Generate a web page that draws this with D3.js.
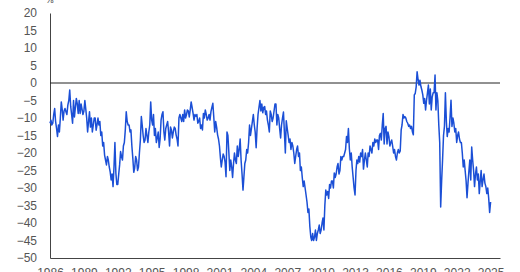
<!DOCTYPE html>
<html>
<head>
<meta charset="utf-8">
<script src="https://cdn.jsdelivr.net/npm/d3@7"></script>
<style>
  body { margin: 0; background: #fff; }
  svg { display: block; font-family: Inter, "Liberation Sans", sans-serif; }
</style>
</head>
<body>
<div id="chart"></div>
<script>
// data: monthly values, Jan 1986 .. Jan 2025 (one row per year)
const startYear = 1986;
const values = [
  -11.5, -10.6, -12, -11.5, -9, -7.3, -11, -13, -15.3, -12, -14, -10,   // 1986
  -5.4, -7.7, -10.6, -8, -7.3, -8.2, -9, -6.3, -5, -2, -6.7, -9,        // 1987
  -11.5, -5, -9.7, -7, -4.4, -6, -8.7, -5, -8.7, -6, -7.5, -9,          // 1988
  -8, -5, -7.3, -10, -14, -11, -8.2, -12.6, -10, -14, -12, -10,         // 1989
  -10, -13.5, -12, -10, -12, -11, -15, -14, -18, -17, -20.6, -22,       // 1990
  -23.4, -21, -22, -24, -25.4, -27.7, -26, -29.6, -24, -17, -25.8, -29, // 1991
  -29, -26, -23.4, -19.6, -21, -22, -18, -17, -13.4, -8.2, -11, -12,    // 1992
  -12, -14, -13.4, -18, -21.4, -25.5, -24.3, -21, -22, -25, -24, -20,   // 1993
  -16.3, -9.6, -12, -15, -17, -16.3, -13, -15, -17, -14, -12, -5.4,     // 1994
  -10.6, -12, -9, -15, -13, -17, -15.7, -14, -18.4, -16, -10.6, -9,     // 1995
  -8.2, -14, -16.3, -13, -12, -11, -14, -18, -12.6, -13.4, -15.7, -14,  // 1996
  -12.6, -13, -14.8, -16, -18, -10, -9, -10, -11, -9, -11, -7.7,        // 1997
  -10, -9, -7.7, -8, -9.7, -7.7, -5.4, -7, -8.7, -10.6, -9, -9.5,       // 1998
  -9, -11.5, -11, -10, -13, -12, -13.4, -8.7, -10, -7.7, -9, -10.6,     // 1999
  -10, -9, -10.6, -8.2, -7, -5.8, -9.7, -14, -11, -12.6, -14.8, -16,    // 2000
  -18, -21.4, -24, -22, -20.3, -21, -22.6, -26.8, -14, -15, -19.9, -25, // 2001
  -22, -24, -27, -23, -20, -22, -23, -18, -21, -19, -16, -22,           // 2002
  -26, -30.6, -27, -23, -22, -19, -20, -17, -12, -15, -13, -11,         // 2003
  -9, -12, -14, -18.5, -13, -9, -7, -5, -8, -6, -8.5, -7,               // 2004
  -6.7, -9, -8, -10.6, -12, -14, -8, -9, -11, -10, -8, -6,              // 2005
  -6, -12, -9, -10, -13, -15.7, -12, -10, -8.3, -14, -20, -10.8,        // 2006
  -13, -15, -17, -16, -19, -17, -18, -20, -23, -21, -19, -18,           // 2007
  -21, -20, -25, -24, -27, -29.6, -28, -30, -32, -34, -37, -36,         // 2008
  -41, -44, -45, -43, -45, -44, -42, -45, -43, -42, -40.6, -43,         // 2009
  -42, -40, -38.6, -42, -35, -30.6, -32, -31, -33, -29, -30, -28,       // 2010
  -28, -30, -25.7, -27, -26, -24, -23, -26, -25, -21, -22, -21,         // 2011
  -21, -20, -19, -15.3, -17, -13, -18.7, -22, -20, -24, -27, -30,       // 2012
  -32, -25, -22, -23, -21, -22.6, -20, -21, -19, -24.6, -22, -20,       // 2013
  -22, -24, -20, -21, -18, -19, -20, -17, -18, -16, -17, -16.3,         // 2014
  -16.3, -19, -15, -14.4, -16.3, -12, -8.7, -17.4, -13, -12.4, -17.4, -14, // 2015
  -15.3, -18, -17, -16.3, -18, -20, -19, -21, -22, -20, -19, -20,       // 2016
  -19.4, -13.4, -12, -9, -10, -9.6, -10, -11, -11.5, -12.4, -12, -13,   // 2017
  -12.4, -14, -14.8, -3.4, -3, -1.1, 3.2, 1, -0.6, 0.8, -1, -2,         // 2018
  -3.4, -5.8, -4.4, -7.7, -5, -2.8, -0.6, -6, -1.7, -7.7, -4, -2.8,     // 2019
  -2.8, 2.3, -7.7, -2.8, -5, -12, -17, -35.4, -28, -22, -15, -12.4,     // 2020
  -2.8, -11, -15.3, -13, -14, -9.7, -4.9, -12.4, -10, -11.5, -14, -13,  // 2021
  -17, -15, -14, -16, -17, -17, -20, -24, -22, -25, -28, -32.8,         // 2022
  -28.6, -25, -22, -27.7, -18.3, -22, -25, -29.6, -26, -24, -27.7, -26, // 2023
  -31.6, -28, -25, -29.6, -27.7, -26, -28.6, -29.6, -31.6, -30, -33, -37, // 2024
  -34                                                                    // 2025
];
const yTicks = [20, 15, 10, 5, 0, -5, -10, -15, -20, -25, -30, -35, -40, -45, -50];
const xTickYears = [1986, 1989, 1992, 1995, 1998, 2001, 2004, 2007, 2010, 2013, 2016, 2019, 2022, 2025];
const unitLabel = "%";

const w = 520, h = 272;
const m = { left: 50, right: 500, top: 13, bottom: 258 };

const data = values.map((v, i) => ({ date: new Date(startYear, i, 1), value: v }));

const svg = d3.select("#chart").append("svg").attr("width", w).attr("height", h);

const x = d3.scaleTime()
  .domain([new Date(1986, 0, 1), new Date(2025, 10, 1)])
  .range([m.left, m.right]);
const y = d3.scaleLinear().domain([-50, 20]).range([m.bottom, m.top]);

// y axis
const yAxis = d3.axisLeft(y).tickValues(yTicks).tickSize(0).tickPadding(13).tickFormat(d3.format("d"));
svg.append("g")
  .attr("transform", "translate(" + m.left + ",0)")
  .call(yAxis)
  .call(g => g.select(".domain").attr("stroke", "#444"))
  .call(g => g.selectAll("text").attr("fill", "#555").style("font-size", "12px"));

// x axis
const xAxis = d3.axisBottom(x)
  .tickValues(xTickYears.map(yr => new Date(yr, 0, 1)))
  .tickSize(0).tickPadding(10)
  .tickFormat(d3.timeFormat("%Y"));
svg.append("g")
  .attr("transform", "translate(0," + m.bottom + ")")
  .call(xAxis)
  .call(g => g.select(".domain").attr("stroke", "#444"))
  .call(g => g.selectAll("text").attr("fill", "#555").style("font-size", "12px"));

// zero line
svg.append("line")
  .attr("x1", m.left).attr("x2", m.right)
  .attr("y1", y(0)).attr("y2", y(0))
  .attr("stroke", "#222").attr("stroke-width", 1);

// unit label
svg.append("text")
  .attr("x", m.left).attr("y", 3)
  .attr("text-anchor", "middle")
  .attr("fill", "#555")
  .style("font-size", "9px")
  .text(unitLabel);

// series line
const line = d3.line().x(d => x(d.date)).y(d => y(d.value));
svg.append("path")
  .datum(data)
  .attr("fill", "none")
  .attr("stroke", "#1b4fd6")
  .attr("stroke-width", 1.5)
  .attr("stroke-linejoin", "round")
  .attr("d", line);
</script>
</body>
</html>
